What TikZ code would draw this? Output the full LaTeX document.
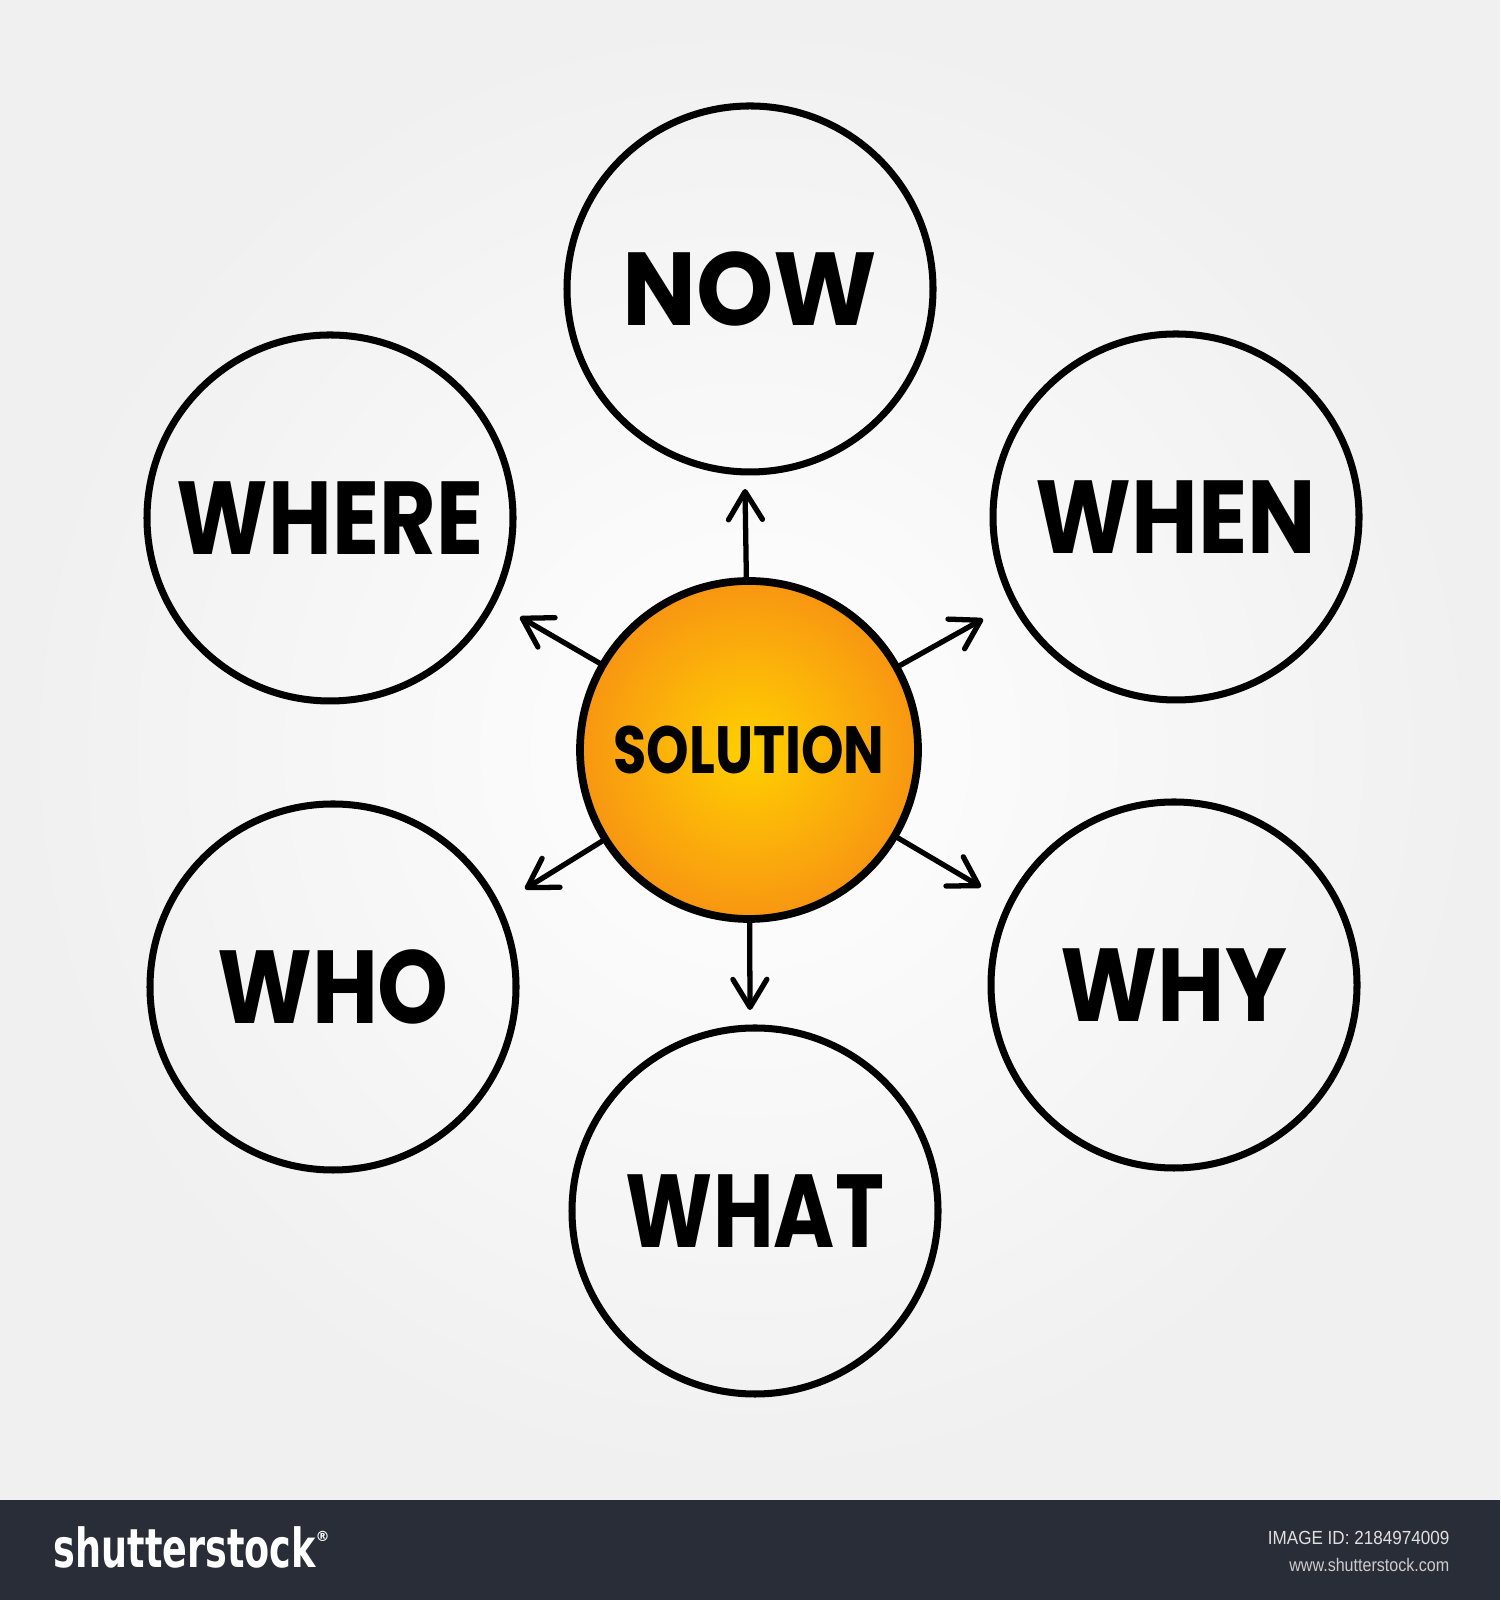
\documentclass[tikz,border=0pt]{standalone}
\usepackage{fontspec}
\usepackage{graphicx}
\usetikzlibrary{arrows.meta}
\newfontfamily\handfont{Poppins}
\newfontfamily\logofont{DejaVu Sans}
\newfontfamily\idfont{Liberation Sans}
\newcommand{\hand}[2][0.85]{\scalebox{#1}[1]{#2}}
\definecolor{bannerbg}{RGB}{40,45,56}
\definecolor{solin}{RGB}{255,208,0}
\definecolor{solout}{RGB}{248,150,18}

\begin{document}
\begin{tikzpicture}[
        bubble/.style={circle, draw, line width=2pt, minimum size=3.66cm, inner sep=0pt,
            font=\handfont\bfseries\fontsize{29.5}{29.5}\selectfont},
        core/.style={circle, draw, shade, line width=2.2pt, minimum size=3.38cm, inner sep=0pt,
            inner color=solin, outer color=solout, font=\handfont\bfseries\fontsize{19}{19}\selectfont},
        arrow/.style={line width=1.5pt, line cap=round, -{Straight Barb[length=2.8mm,width=3.4mm,round]}}
    ]
            \useasboundingbox (0,0) rectangle (15,16);
            \shade[inner color=white, outer color=black!6] (0,1) rectangle (15,16);
            \fill[bannerbg] (0,0) rectangle (15,1);

            \node[core] (Sol) at (7.49,8.50) {\hand[0.81]{SOLUTION}};
            \node[bubble] (Now) at (7.50,13.11) {\hand[0.95]{NOW}};
            \node[bubble] (Where) at (3.30,10.82) {\hand[0.84]{WHERE}};
            \node[bubble] (When) at (11.76,10.83) {\hand[0.88]{WHEN}};
            \node[bubble] (Who) at (3.33,6.13) {\hand[0.87]{WHO}};
            \node[bubble] (Why) at (11.74,6.15) {\hand[0.89]{WHY}};
            \node[bubble] (What) at (7.55,3.89) {\hand[0.80]{WHAT}};

            % arrow tips stop short of the outer circles
            \coordinate (tNow) at (7.45,11.11);
            \coordinate (tWhere) at (5.20,9.83);
            \coordinate (tWhen) at (9.83,9.81);
            \coordinate (tWho) at (5.25,7.11);
            \coordinate (tWhy) at (9.81,7.13);
            \coordinate (tWhat) at (7.50,5.90);
            \foreach \t in {tNow,tWhere,tWhen,tWho,tWhy,tWhat}
                \draw[arrow] (Sol) -- (\t);

            \node[anchor=base west, inner sep=0pt, text=white, font=\logofont\bfseries\fontsize{15.3}{15.3}\selectfont]
                (Logo) at (0.53,0.32) {\scalebox{0.68}[1]{shutterstock}\raisebox{0.9ex}{\fontsize{4}{4}\selectfont\textregistered}};
            \node[anchor=base east, inner sep=0pt, text=black!12, font=\idfont\fontsize{5.4}{5.4}\selectfont]
                (ImgId) at (14.50,0.55) {\scalebox{0.9}[1]{IMAGE ID: 2184974009}};
            \node[anchor=base east, inner sep=0pt, text=black!20, font=\idfont\fontsize{5.2}{5.2}\selectfont]
                (Site) at (14.50,0.28) {\scalebox{0.88}[1]{www.shutterstock.com}};
        \end{tikzpicture}
\end{document}
